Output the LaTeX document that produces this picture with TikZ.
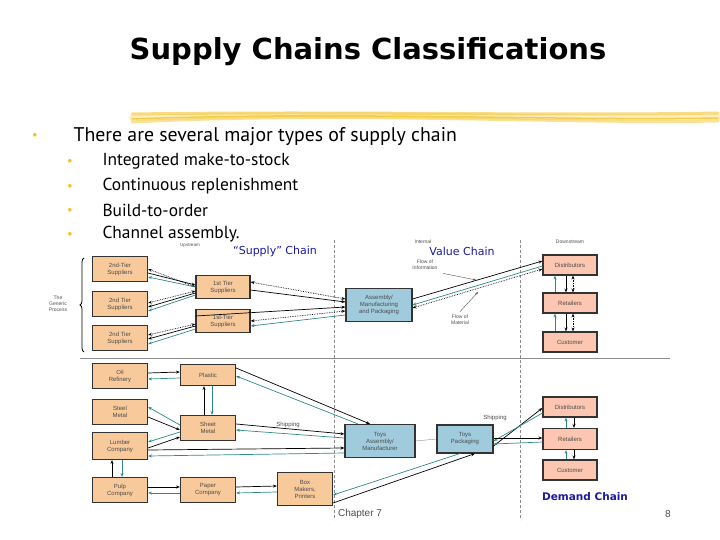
\documentclass[tikz,border=0pt]{standalone}
\usepackage{fontspec}
\setmainfont{Liberation Sans}
\newfontfamily\narrowf{PT Sans}
\newfontfamily\vfont{DejaVu Sans}
\usetikzlibrary{arrows.meta,decorations.pathreplacing}
\definecolor{peach}{HTML}{F8C99A}
\definecolor{pblue}{HTML}{9FCBDD}
\definecolor{teal}{HTML}{2E8A86}
\definecolor{cblue}{HTML}{1A1AA0}
\definecolor{byel}{HTML}{F4C430}
\begin{document}
\begin{tikzpicture}[x=1pt,y=-1pt,
 box/.style={draw=black!80,line width=1.1pt,fill=peach,inner sep=1pt,align=center,font=\fontsize{6}{7}\selectfont,text=black!70},
 bbox/.style={box,fill=pblue},
 tiny/.style={font=\fontsize{5}{6}\selectfont,text=black!70,align=center},
 blk/.style={-{Stealth[length=4pt]},line width=0.7pt,black},
 tl/.style={-{Stealth[length=4pt]},line width=0.7pt,teal},
 dt/.style={{Stealth[length=4pt]}-{Stealth[length=4pt]},line width=0.7pt,densely dotted,black},
 chain/.style={font=\vfont\fontsize{11}{12}\selectfont,text=cblue},
 bul/.style={text=byel!90!orange,font=\fontsize{9}{9}\selectfont},
 btext/.style={anchor=west,font=\narrowf\fontsize{17.4}{19}\selectfont}]
\useasboundingbox (0,0) rectangle (720,540);
% title
\node[font=\vfont\bfseries\fontsize{29}{34}\selectfont] (title) at (368,52) {Supply Chains Classifications};
\foreach \o/\w/\yy in {0.3/6/118,0.6/3/114,0.5/3/122,0.8/1.5/119}
  \draw[byel,opacity=\o,line width=\w pt,line cap=round] (132,\yy) .. controls (350,111) and (550,\yy+2) .. (718,\yy-1);
% bullets
\node[bul] (b0) at (35,135) {$\bullet$};
\node[btext,font=\narrowf\fontsize{19.8}{21}\selectfont] (t0) at (70,137) {There are several major types of supply chain};
\foreach \n/\yy/\t in {1/161/Integrated make-to-stock,2/186/Continuous replenishment,3/210/Build-to-order,4/234/Channel assembly.}{
  \node[bul] (b\n) at (70,\yy) {$\bullet$};
  \node[btext] (t\n) at (99,\yy) {\t};}
% separators
\draw[black!45,densely dashed,line width=0.4pt] (334,240) -- (334,520);
\draw[black!45,densely dashed,line width=0.4pt] (520,240) -- (520,520);
\draw[black!45,line width=0.7pt] (80,358) -- (670,358);
% labels
\node[tiny,font=\fontsize{4.5}{5}\selectfont] (up) at (190,245) {Upstream};
\node[tiny] (int) at (423,242) {Internal};
\node[tiny] (down) at (570,242) {Downstream};
\node[chain] (sc) at (275,251) {“Supply” Chain};
\node[chain] (vc) at (462,251) {Value Chain};
\node[tiny] (foi) at (425,265) {Flow of\\Information};
\node[tiny] (fom) at (460,320) {Flow of\\Material};
\node[tiny] (gp) at (58,304) {The\\Generic\\Process};
\draw[line width=0.8pt,decorate,decoration={brace,amplitude=4pt}] (84,352) -- (84,258);
% top boxes
\node[box,minimum width=55pt,minimum height=25pt] (s1) at (120,269) {2nd-Tier\\Suppliers};
\node[box,minimum width=55pt,minimum height=25pt] (s2) at (120,304) {2nd Tier\\Suppliers};
\node[box,minimum width=55pt,minimum height=25pt] (s3) at (120,338) {2nd Tier\\Suppliers};
\node[box,minimum width=54pt,minimum height=23pt] (f1) at (223,287) {1st Tier\\Suppliers};
\node[box,minimum width=54pt,minimum height=23pt] (f2) at (223,321) {1st-Tier\\Suppliers};
\node[bbox,minimum width=66pt,minimum height=33pt] (asm) at (379,305) {Assembly/\\Manufacturing\\and Packaging};
\node[box,fill=peach!80!red!60,minimum width=54pt,minimum height=20pt] (d1) at (570,265) {Distributors};
\node[box,fill=peach!80!red!60,minimum width=54pt,minimum height=20pt] (r1) at (570,303) {Retailers};
\node[box,fill=peach!80!red!60,minimum width=54pt,minimum height=20pt] (c1) at (570,342) {Customer};
% top arrows
\draw[dt] (s1.east) -- (f1.west);
\draw[blk] ([yshift=-4pt]s1.east) -- ([yshift=2pt]f1.west);
\draw[tl] (f1.west) -- ([yshift=-8pt]s1.east);
\draw[dt] ([yshift=1pt]s2.east) -- ([yshift=-4pt]f1.west);
\draw[blk] ([yshift=-6pt]f1.west) -- ([yshift=-3pt]s2.east);
\draw[tl] ([yshift=-8pt]f1.west) -- ([yshift=-7pt]s2.east);
\draw[dt] ([yshift=3pt]s3.east) -- ([yshift=-3pt]f2.west);
\draw[blk] ([yshift=-5pt]f2.west) -- ([yshift=-1pt]s3.east);
\draw[tl] ([yshift=-8pt]f2.west) -- ([yshift=-6pt]s3.east);
\draw[dt] ([yshift=5pt]f1.east) -- ([yshift=6pt]asm.west);
\draw[blk] ([yshift=-3pt]f1.east) -- ([yshift=3pt]asm.west);
\draw[blk] ([yshift=5pt]f2.west) -- ([yshift=-2pt]asm.west);
\draw[dt] (f2.east) -- ([yshift=-6pt]asm.west);
\draw[tl] ([yshift=-10pt]asm.west) -- ([yshift=-5pt]f2.east);
\draw[dt] ([yshift=-3pt]asm.east) -- ([yshift=-4pt]d1.west);
\draw[tl] ([yshift=-1pt]d1.west) -- (asm.east);
\draw[blk] ([yshift=6pt]asm.east) -- ([yshift=4pt]d1.west);
\coordinate (fi) at (476,280);
\coordinate (fm) at (478,292);
\draw[black!70,line width=0.4pt,-{Stealth[length=3pt]}] ([xshift=2pt]foi.south east) -- (fi);
\draw[black!70,line width=0.4pt,-{Stealth[length=3pt]}] (fom.north) -- (fm);
\draw[tl] ([xshift=-15pt]r1.north) -- ([xshift=-15pt]d1.south);
\draw[blk] ([xshift=-4pt]d1.south) -- ([xshift=-4pt]r1.north);
\draw[dt] ([xshift=3pt]d1.south) -- ([xshift=3pt]r1.north);
\draw[tl] ([xshift=-15pt]c1.north) -- ([xshift=-15pt]r1.south);
\draw[blk] ([xshift=-4pt]r1.south) -- ([xshift=-4pt]c1.north);
\draw[dt] ([xshift=3pt]r1.south) -- ([xshift=3pt]c1.north);
% bottom boxes
\node[box,minimum width=55pt,minimum height=25pt] (oil) at (120,376) {Oil\\Refinery};
\node[box,minimum width=55pt,minimum height=21pt] (pl) at (208,375) {Plastic};
\node[box,minimum width=55pt,minimum height=25pt] (st) at (120,412) {Steel\\Metal};
\node[box,minimum width=55pt,minimum height=25pt] (sm) at (208,428) {Sheet\\Metal};
\node[box,minimum width=55pt,minimum height=27pt] (lu) at (120,446) {Lumber\\Company};
\node[box,minimum width=55pt,minimum height=25pt] (pu) at (120,490) {Pulp\\Company};
\node[box,minimum width=55pt,minimum height=25pt] (pa) at (208,490) {Paper\\Company};
\node[box,minimum width=55pt,minimum height=33pt] (bx) at (305,489) {Box\\Makers,\\Printers};
\node[bbox,minimum width=70pt,minimum height=33pt] (ta) at (380,441) {Toys\\Assembly/\\Manufacturer};
\node[bbox,minimum width=56pt,minimum height=28pt] (tp) at (465,439) {Toys\\Packaging};
\node[box,fill=peach!80!red!60,minimum width=54pt,minimum height=20pt] (d2) at (570,407) {Distributors};
\node[box,fill=peach!80!red!60,minimum width=54pt,minimum height=21pt] (r2) at (570,439) {Retailers};
\node[box,fill=peach!80!red!60,minimum width=54pt,minimum height=20pt] (c2) at (570,470) {Customer};
\node[tiny,font=\fontsize{6}{7}\selectfont] (sh1) at (288,425) {Shipping};
\node[tiny,font=\fontsize{6}{7}\selectfont] (sh2) at (495,418) {Shipping};
% bottom arrows
\draw[blk] ([yshift=3pt]oil.east) -- ([yshift=3pt]pl.west);
\draw[tl] ([yshift=-3pt]pl.west) -- ([yshift=-3pt]oil.east);
\draw[blk] ([xshift=-4pt]sm.north) -- ([xshift=-4pt]pl.south);
\draw[tl] ([xshift=4pt]pl.south) -- ([xshift=4pt]sm.north);
\draw[tl] ([yshift=3pt]sm.west) -- ([yshift=5pt]st.east);
\draw[blk] ([yshift=-5pt]st.east) -- ([yshift=-2pt]sm.west);
\draw[tl] ([yshift=-4pt]sm.west) -- ([yshift=4pt]lu.east);
\draw[blk] ([yshift=-2pt]lu.east) -- ([yshift=-9pt]sm.west);
\draw[blk] ([yshift=7pt]pl.east) -- ([xshift=-10pt]ta.north);
\draw[tl] ([xshift=-22pt]ta.north) -- ([yshift=-1pt]pl.east);
\draw[blk] ([yshift=4pt]sm.east) -- ([yshift=7pt]ta.west);
\draw[tl] ([yshift=3pt]ta.west) -- ([yshift=-2pt]sm.east);
\draw[blk] ([yshift=-4pt]lu.east) -- ([yshift=-7pt]ta.west);
\draw[tl] ([yshift=-12pt]ta.west) -- ([yshift=-10pt]lu.east);
\draw[blk] ([xshift=-8pt]pu.north) -- ([xshift=-8pt]lu.south);
\draw[tl] ([xshift=2pt]lu.south) -- ([xshift=2pt]pu.north);
\draw[blk] ([yshift=3pt]pu.east) -- ([yshift=3pt]pa.west);
\draw[tl] ([yshift=-3pt]pa.west) -- ([yshift=-3pt]pu.east);
\draw[blk] ([yshift=3pt]pa.east) -- ([yshift=3pt]bx.west);
\draw[tl] ([yshift=-3pt]bx.west) -- ([yshift=-3pt]pa.east);
\draw[tl] ([xshift=-5pt]tp.south) -- ([yshift=-6pt]bx.east);
\draw[blk] ([yshift=-14pt]bx.east) -- ([xshift=10pt]tp.south);
\draw[black!45,line width=0.4pt] (ta.east) -- (tp.west);
\draw[blk] ([yshift=-7pt]tp.east) -- ([yshift=-1pt]d2.west);
\draw[tl] ([yshift=-6pt]d2.west) -- ([yshift=-2pt]tp.east);
\draw[blk] ([yshift=1pt]tp.east) -- ([yshift=1pt]r2.west);
\draw[tl] ([yshift=-3pt]r2.west) -- ([yshift=-5pt]tp.east);
\draw[tl] ([xshift=-4pt]r2.north) -- ([xshift=-4pt]d2.south);
\draw[blk] ([xshift=4pt]d2.south) -- ([xshift=4pt]r2.north);
\draw[tl] ([xshift=-4pt]c2.north) -- ([xshift=-4pt]r2.south);
\draw[blk] ([xshift=4pt]r2.south) -- ([xshift=4pt]c2.north);
% footer
\node[chain,font=\vfont\bfseries\fontsize{10.5}{12}\selectfont] (dc) at (585,497) {Demand Chain};
\node[font=\fontsize{10}{12}\selectfont,text=black!70] (ch) at (360,514) {Chapter 7};
\node[font=\fontsize{10}{12}\selectfont,text=black!70] (pg) at (668,514) {8};
\end{tikzpicture}
\end{document}
